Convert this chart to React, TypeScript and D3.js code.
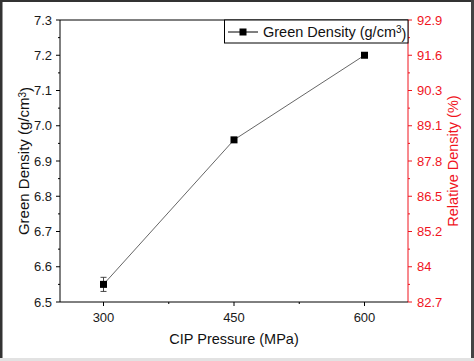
import React from "react";
import * as d3 from "d3";

const pressures = [300, 450, 600];
const greenDensity = [6.55, 6.96, 7.2];
const errors = [0.02, 0, 0];
const xTicks = [300, 450, 600];
const xMinorTicks = [375, 525];
const yTicks = [6.5, 6.6, 6.7, 6.8, 6.9, 7.0, 7.1, 7.2, 7.3];
const yTickLabels = ["6.5", "6.6", "6.7", "6.8", "6.9", "7.0", "7.1", "7.2", "7.3"];
const relTickLabels = ["82.7", "84", "85.2", "86.5", "87.8", "89.1", "90.3", "91.6", "92.9"];

const W = 474;
const H = 361;
const M = { left: 60, right: 408, top: 20, bottom: 302 };
const FONT = "'Liberation Sans', Arial, sans-serif";
const RED = "#f0141e";

export default function App() {
  const x = d3.scaleLinear().domain([250, 650]).range([M.left, M.right]);
  const y = d3.scaleLinear().domain([6.5, 7.3]).range([M.bottom, M.top]);
  const line = d3
    .line<number>()
    .x((_, i) => x(pressures[i]))
    .y((d) => y(d));
  const yMinor = d3.range(0, 8).map((i) => 6.55 + i * 0.1);

  return (
    <svg
      width={W}
      height={H}
      style={{ position: "fixed", left: 0, top: 0, fontFamily: FONT }}
    >
      <rect x={0} y={0} width={W} height={H} fill="#fff" />
      <rect x={0} y={0} width={W} height={2} fill="#333" />
      <rect x={0} y={0} width={2.5} height={H} fill="#333" />
      <rect x={471} y={0} width={3} height={H} fill="#444" />
      <rect x={0} y={358} width={W} height={3} fill="#e2e2e2" />

      {/* left axis */}
      <line x1={M.left} x2={M.left} y1={M.top} y2={M.bottom} stroke="#000" strokeWidth={1} />
      {yTicks.map((t, i) => (
        <g key={"yl" + i}>
          <line x1={M.left - 4} x2={M.left} y1={y(t)} y2={y(t)} stroke="#000" />
          <text x={M.left - 8} y={y(t)} dy="0.36em" textAnchor="end" fontSize={13} fill="#1a1a1a">
            {yTickLabels[i]}
          </text>
        </g>
      ))}
      {yMinor.map((t, i) => (
        <line key={"ym" + i} x1={M.left - 2} x2={M.left} y1={y(t)} y2={y(t)} stroke="#000" />
      ))}

      {/* right axis */}
      <line x1={M.right} x2={M.right} y1={M.top} y2={M.bottom} stroke={RED} strokeWidth={1} />
      {yTicks.map((t, i) => (
        <g key={"yr" + i}>
          <line x1={M.right} x2={M.right + 4} y1={y(t)} y2={y(t)} stroke={RED} />
          <text x={M.right + 9} y={y(t)} dy="0.36em" textAnchor="start" fontSize={13} fill={RED}>
            {relTickLabels[i]}
          </text>
        </g>
      ))}
      {yMinor.map((t, i) => (
        <line key={"yrm" + i} x1={M.right} x2={M.right + 2} y1={y(t)} y2={y(t)} stroke={RED} />
      ))}

      {/* bottom axis */}
      <line x1={M.left} x2={M.right} y1={M.bottom} y2={M.bottom} stroke="#000" strokeWidth={1} />
      {xTicks.map((t, i) => (
        <g key={"xt" + i}>
          <line x1={x(t)} x2={x(t)} y1={M.bottom} y2={M.bottom + 4} stroke="#000" />
          <text x={x(t)} y={M.bottom + 15} dy="0.36em" textAnchor="middle" fontSize={13} fill="#1a1a1a">
            {t}
          </text>
        </g>
      ))}
      {xMinorTicks.map((t, i) => (
        <line key={"xm" + i} x1={x(t)} x2={x(t)} y1={M.bottom} y2={M.bottom + 2} stroke="#000" />
      ))}
      <line x1={M.left} x2={M.right} y1={M.top} y2={M.top} stroke="#000" strokeWidth={1} />

      {/* axis titles */}
      <text x={(M.left + M.right) / 2} y={339} dy="0.36em" textAnchor="middle" fontSize={14.5} fill="#111">
        CIP Pressure (MPa)
      </text>
      <text
        transform={`translate(24,${(M.top + M.bottom) / 2}) rotate(-90)`}
        dy="0.36em"
        textAnchor="middle"
        fontSize={15}
        fill="#111"
      >
        Green Density (g/cm<tspan dy="-0.35em" fontSize={10}>3</tspan>
        <tspan dy="0.35em">)</tspan>
      </text>
      <text
        transform={`translate(453,${(M.top + M.bottom) / 2}) rotate(-90)`}
        dy="0.36em"
        textAnchor="middle"
        fontSize={14.5}
        fill={RED}
      >
        Relative Density (%)
      </text>

      {/* data */}
      <path d={line(greenDensity) || ""} fill="none" stroke="#555" strokeWidth={0.9} />
      {greenDensity.map((v, i) =>
        errors[i] > 0 ? (
          <g key={"e" + i} stroke="#333" strokeWidth={0.9}>
            <line x1={x(pressures[i])} x2={x(pressures[i])} y1={y(v - errors[i])} y2={y(v + errors[i])} />
            <line x1={x(pressures[i]) - 3} x2={x(pressures[i]) + 3} y1={y(v - errors[i])} y2={y(v - errors[i])} />
            <line x1={x(pressures[i]) - 3} x2={x(pressures[i]) + 3} y1={y(v + errors[i])} y2={y(v + errors[i])} />
          </g>
        ) : null
      )}
      {greenDensity.map((v, i) => (
        <rect key={"p" + i} x={x(pressures[i]) - 3.5} y={y(v) - 3.5} width={7} height={7} fill="#000" />
      ))}

      {/* legend */}
      <rect x={224.5} y={20} width={183.5} height={23} fill="#fff" stroke="#000" strokeWidth={1} />
      <line x1={228} x2={258} y1={32} y2={32} stroke="#000" strokeWidth={1} />
      <rect x={239.5} y={28.5} width={7} height={7} fill="#000" />
      <text x={263} y={32} dy="0.36em" fontSize={14.5} fill="#111">
        Green Density (g/cm<tspan dy="-0.4em" fontSize={10}>3</tspan>
        <tspan dy="0.4em">)</tspan>
      </text>
    </svg>
  );
}
